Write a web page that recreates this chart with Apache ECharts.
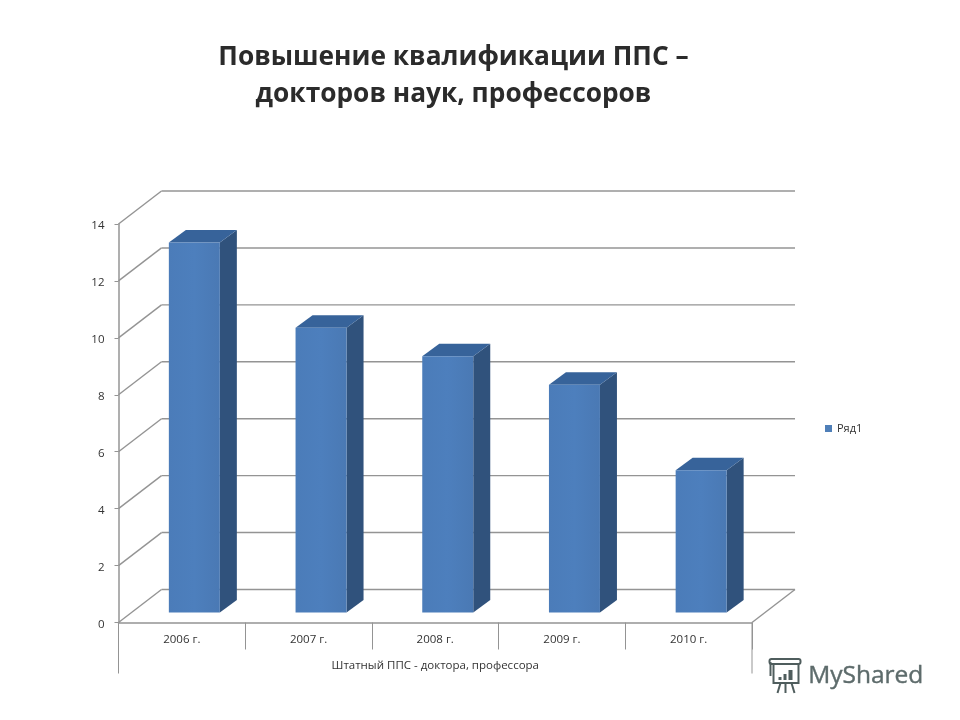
<!DOCTYPE html>
<html><head><meta charset="utf-8">
<style>html,body{margin:0;padding:0;background:#fff}#c{width:960px;height:720px}</style>
<script src="https://cdn.jsdelivr.net/npm/echarts@6/dist/echarts.min.js"></script>
</head><body><div id="c"></div>
<script>
const categories = ['2006 г.','2007 г.','2008 г.','2009 г.','2010 г.'];
const values = [13,10,9,8,5];
const yTicks = [0,2,4,6,8,10,12,14];
const seriesName = 'Ряд1';
const groupLabel = 'Штатный ППС - доктора, профессора';
const titleLines = 'Повышение квалификации ППС –\nдокторов наук, профессоров';

const WALL_DX = 43, WALL_DY = 33, BAR_DX = 17, BAR_DY = 12.5, BAR_W = 51, BAR_SHIFT_X = 12.5, BAR_SHIFT_Y = 10;
const LINE = '#949494';
const line = (x1,y1,x2,y2,c,w) => ({type:'line',shape:{x1,y1,x2,y2},style:{stroke:c||LINE,lineWidth:w||1.4}});
const chart = echarts.init(document.getElementById('c'));
chart.setOption({
  animation:false,
  backgroundColor:'#fff',
  title:{text:titleLines,left:448.5,top:34,textAlign:'center',
    textStyle:{fontFamily:'Open Sans',fontWeight:'bold',fontSize:26.3,lineHeight:37,color:'#2b2b2b'}},
  legend:{left:820,top:418,icon:'rect',itemWidth:7,itemHeight:7,itemGap:5,
    data:[{name:seriesName,itemStyle:{color:'#4f7fb8'}}],
    textStyle:{fontFamily:'Open Sans',fontSize:11,color:'#333'}},
  grid:{left:118.5,top:224,width:633.5,height:398.5},
  xAxis:{type:'category',data:categories,boundaryGap:true,
    axisLine:{lineStyle:{color:LINE,width:1.5}},
    axisTick:{show:true,length:27,lineStyle:{color:LINE,width:1}},
    axisLabel:{fontFamily:'Open Sans',fontSize:11.5,color:'#333',margin:11},
    name:groupLabel,nameLocation:'middle',nameGap:37,
    nameTextStyle:{fontFamily:'Open Sans',fontSize:11.5,color:'#333'}},
  yAxis:{type:'value',min:0,max:14,interval:2,
    axisLine:{show:true,lineStyle:{color:LINE,width:1.5}},
    axisTick:{show:true,length:4,lineStyle:{color:LINE,width:1}},
    axisLabel:{fontFamily:'Open Sans',fontSize:11.5,color:'#333',margin:14,verticalAlign:'top',lineHeight:4},
    splitLine:{show:false}},
  series:[
    {type:'custom',name:'walls',silent:true,clip:false,z:1,data:yTicks,legendHoverLink:false,
     renderItem(params,api){
       const v=api.value(0), cs=params.coordSys, y=api.coord([0,v])[1];
       const kids=[
         line(cs.x,y,cs.x+WALL_DX,y-WALL_DY),
         line(cs.x+WALL_DX,y-WALL_DY,cs.x+cs.width+WALL_DX,y-WALL_DY)];
       if(v===0){
         kids.push(line(cs.x+cs.width,y,cs.x+cs.width+WALL_DX,y-WALL_DY));
         kids.push(line(cs.x,y,cs.x,y+51,LINE,1));
         kids.push(line(cs.x+cs.width,y,cs.x+cs.width,y+51,LINE,1));
       }
       return {type:'group',children:kids};
     },encode:{y:0}},
    {type:'custom',name:seriesName,silent:true,clip:false,z:2,
     itemStyle:{color:'#4f7fb8'},
     data:values.map((v,i)=>[i,v]),
     renderItem(params,api){
       const i=api.value(0), v=api.value(1);
       const b=api.coord([i,0]), t=api.coord([i,v]);
       const l=b[0]-BAR_W/2+BAR_SHIFT_X, r=l+BAR_W, bot=b[1]-BAR_SHIFT_Y, top=t[1]-BAR_SHIFT_Y;
       const poly=(points,fill)=>({type:'polygon',shape:{points},style:{fill}});
       return {type:'group',children:[
         poly([[r,top],[r+BAR_DX,top-BAR_DY],[r+BAR_DX,bot-BAR_DY],[r,bot]],'#30527c'),
         poly([[l,top],[l+BAR_DX,top-BAR_DY],[r+BAR_DX,top-BAR_DY],[r,top]],'#37639a'),
         {type:'rect',shape:{x:l,y:top,width:BAR_W,height:bot-top},
          style:{fill:new echarts.graphic.LinearGradient(0,0,1,0,[
            {offset:0,color:'#4b7cb9'},{offset:.5,color:'#4d7fbd'},{offset:1,color:'#4a79b4'}])}}
       ]};
     },encode:{x:0,y:1}}
  ],
  graphic:[
    {type:'text',left:808,top:663,style:{text:'MyShared',fontFamily:'Open Sans',fontSize:24.5,fill:'#5d6b6b',stroke:'#5d6b6b',lineWidth:0.4}},
    {type:'group',left:768,top:658,silent:true,children:[
      {type:'rect',shape:{x:2,y:0,width:31,height:5,r:2},style:{fill:'#fff',stroke:'#4f5d5d',lineWidth:2}},
      {type:'rect',shape:{x:6,y:5,width:25,height:19},style:{fill:'#fff',stroke:'#4f5d5d',lineWidth:2}},
      {type:'rect',shape:{x:11,y:18,width:3,height:3},style:{fill:'#4f5d5d'}},
      {type:'rect',shape:{x:16,y:15,width:3,height:6},style:{fill:'#4f5d5d'}},
      {type:'rect',shape:{x:21,y:11,width:4,height:10},style:{fill:'#4f5d5d'}},
      {type:'line',shape:{x1:18,y1:24,x2:18,y2:34},style:{stroke:'#4f5d5d',lineWidth:2}},
      {type:'line',shape:{x1:13,y1:24,x2:10,y2:34},style:{stroke:'#4f5d5d',lineWidth:2}},
      {type:'line',shape:{x1:24,y1:24,x2:27,y2:34},style:{stroke:'#4f5d5d',lineWidth:2}},
      {type:'line',shape:{x1:3,y1:3,x2:3,y2:17},style:{stroke:'#4f5d5d',lineWidth:2}}
    ]}
  ]
});
</script></body></html>
